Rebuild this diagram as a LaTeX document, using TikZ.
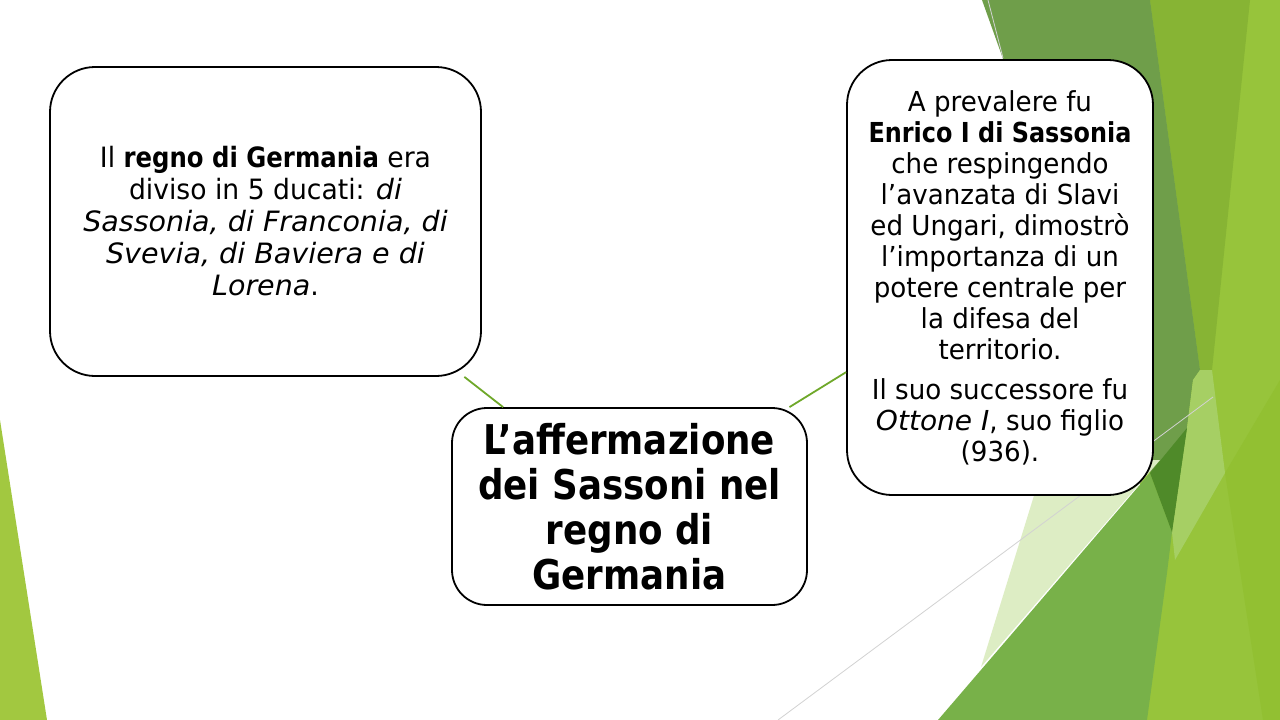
\documentclass[tikz,border=0pt]{standalone}
\usepackage{fontspec}
\setmainfont{DejaVu Sans}[UprightFeatures={FakeStretch=0.95},BoldFeatures={FakeStretch=0.87},ItalicFeatures={FakeStretch=1.02}]
\definecolor{leafgreen}{HTML}{A2C840}
\definecolor{facetbright}{HTML}{97C43B}
\definecolor{facetlow}{HTML}{92C032}
\definecolor{facetband}{HTML}{87B434}
\definecolor{facetdark}{HTML}{6F9E4A}
\definecolor{facetlight}{HTML}{A6CF64}
\definecolor{facetpale}{HTML}{DDEDC4}
\definecolor{facetmid}{HTML}{78B149}
\definecolor{facetdeep}{HTML}{4F8A29}
\definecolor{linkgreen}{HTML}{6FA82A}
\tikzset{
	box/.style={draw=black,line width=1.8pt,fill=white,rounded corners=#1,align=center,inner sep=0pt},
	box/.default=40pt,
	link/.style={draw=linkgreen,line width=1.8pt}
}

\begin{document}
\begin{tikzpicture}[x=1pt,y=-1pt]
	\fill[white] (0,0) rectangle (1280,720);
	\useasboundingbox (0,0) rectangle (1280,720);

	\fill[leafgreen] (0,420) -- (47,720) -- (0,720) -- cycle;
	\fill[facetbright] (1140,0) -- (1280,0) -- (1280,720) -- (1140,720) -- cycle;
	\fill[facetlow] (1225,473) -- (1280,380) -- (1280,720) -- (1263,720) -- cycle;
	\fill[facetband] (1150,0) -- (1250,0) -- (1212,370) -- (1200,370) -- cycle;
	\fill[facetdark] (982,0) -- (1150,0) -- (1200,370) -- (1193,380) -- (1187,428) -- (1172,532) -- cycle;
	\fill[facetlight] (1200,370) -- (1212,370) -- (1225,473) -- (1175,560) -- (1172,532) -- (1187,428) -- (1193,380) -- cycle;
	\fill[facetpale] (1045,460) -- (1160,460) -- (981,667) -- cycle;
	\fill[facetmid] (938,720) -- (1150,473) -- (1172,532) -- (1167,573) -- (1147,720) -- cycle;
	\fill[facetdeep] (1150,473) -- (1187,428) -- (1172,532) -- cycle;
	\draw[gray!35,line width=0.8pt] (778,720) -- (1213,397);
	\draw[gray!35,line width=0.8pt] (988,0) -- (1003,58);

	\node[box=45pt,minimum width=431pt,minimum height=309pt,font=\fontsize{28}{32}\selectfont] (regno) at (265.5,221.5)
		{Il \textbf{regno di Germania} era\\ diviso in 5 ducati: \textit{di}\\ \textit{Sassonia, di Franconia, di}\\ \textit{Svevia, di Baviera e di}\\ \textit{Lorena}.};
	\node[box=35pt,minimum width=355pt,minimum height=197pt,font=\fontsize{41}{45}\selectfont\bfseries] (sassoni) at (629.5,506.5)
		{L’affermazione\\ dei Sassoni nel\\ regno di\\ Germania};
	\node[box=45pt,minimum width=306pt,minimum height=435pt,font=\fontsize{27.5}{31}\selectfont] (enrico) at (1000,277.5)
		{A prevalere fu\\ \textbf{Enrico I di Sassonia}\\ che respingendo\\ l’avanzata di Slavi\\ ed Ungari, dimostrò\\ l’importanza di un\\ potere centrale per\\ la difesa del\\ territorio.\\[9pt] Il suo successore fu\\ \textit{Ottone I}, suo figlio\\ (936).};

	\draw[link] (regno) -- (sassoni);
	\draw[link] (sassoni) -- (enrico);
\end{tikzpicture}
\end{document}
